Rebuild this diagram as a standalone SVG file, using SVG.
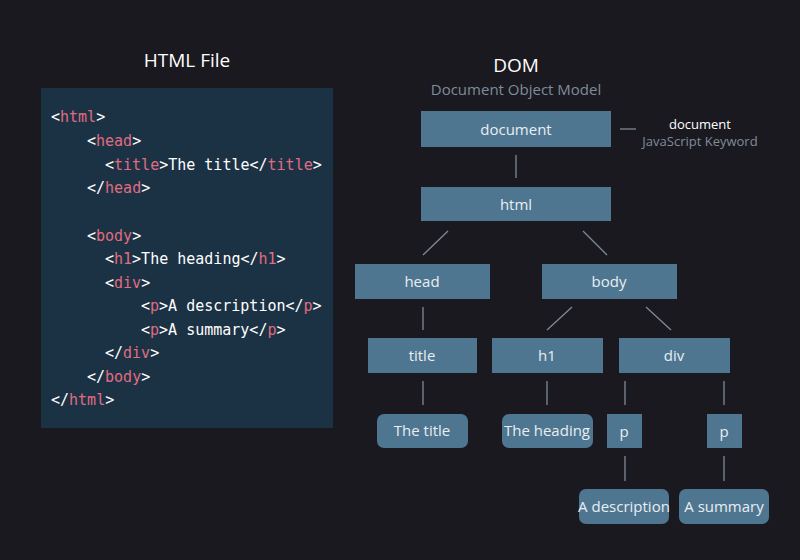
<svg xmlns="http://www.w3.org/2000/svg" width="800" height="560" viewBox="0 0 800 560">
<style>
.code{font-family:"DejaVu Sans Mono",monospace;font-size:15px;fill:#ffffff}
.t{fill:#e06c80}
.n{fill:#4f7690}
.nl{font-family:"Open Sans","Noto Sans",sans-serif;font-size:15px;fill:#e8eef2;text-anchor:middle}
.c line{stroke:#7f8a94;stroke-width:1.3}
</style>
<rect width="800" height="560" fill="#1a1920"/>
<text x="187" y="67" font-family="Open Sans,sans-serif" font-size="19" fill="#fff" text-anchor="middle">HTML File</text>
<text x="516" y="72" font-family="Open Sans,sans-serif" font-size="19" fill="#fff" text-anchor="middle">DOM</text>
<text x="516" y="95" font-family="Open Sans,sans-serif" font-size="15" fill="#7f8c99" text-anchor="middle">Document Object Model</text>
<g id="code">
<rect x="41" y="88" width="292" height="340" fill="#1b3245"/>
<text class="code" x="51" y="122">&lt;<tspan class="t">html</tspan>&gt;</text>
<text class="code" x="87" y="146">&lt;<tspan class="t">head</tspan>&gt;</text>
<text class="code" x="105" y="170">&lt;<tspan class="t">title</tspan>&gt;The title&lt;/<tspan class="t">title</tspan>&gt;</text>
<text class="code" x="87" y="193">&lt;/<tspan class="t">head</tspan>&gt;</text>
<text class="code" x="87" y="241">&lt;<tspan class="t">body</tspan>&gt;</text>
<text class="code" x="105" y="264">&lt;<tspan class="t">h1</tspan>&gt;The heading&lt;/<tspan class="t">h1</tspan>&gt;</text>
<text class="code" x="105" y="288">&lt;<tspan class="t">div</tspan>&gt;</text>
<text class="code" x="141" y="311">&lt;<tspan class="t">p</tspan>&gt;A description&lt;/<tspan class="t">p</tspan>&gt;</text>
<text class="code" x="141" y="335">&lt;<tspan class="t">p</tspan>&gt;A summary&lt;/<tspan class="t">p</tspan>&gt;</text>
<text class="code" x="105" y="358">&lt;/<tspan class="t">div</tspan>&gt;</text>
<text class="code" x="87" y="382">&lt;/<tspan class="t">body</tspan>&gt;</text>
<text class="code" x="51" y="405">&lt;/<tspan class="t">html</tspan>&gt;</text>
</g>
<g class="c" id="connectors">
<line x1="516" y1="155" x2="516" y2="178"/>
<line x1="620" y1="129" x2="636" y2="129"/>
<line x1="448" y1="231" x2="423" y2="255"/>
<line x1="583" y1="231" x2="607" y2="255"/>
<line x1="423" y1="307" x2="423" y2="330"/>
<line x1="572" y1="307" x2="547" y2="330"/>
<line x1="646" y1="307" x2="671" y2="330"/>
<line x1="423" y1="381" x2="423" y2="405"/>
<line x1="547" y1="381" x2="547" y2="405"/>
<line x1="625" y1="381" x2="625" y2="405"/>
<line x1="724" y1="381" x2="724" y2="405"/>
<line x1="625" y1="456" x2="625" y2="481"/>
<line x1="724" y1="456" x2="724" y2="481"/>
</g>
<g id="document"><rect class="n" x="421" y="111" width="190" height="36"/><text class="nl" x="516" y="135">document</text></g>
<g id="doc-note"><text x="700" y="129" font-family="Open Sans,sans-serif" font-size="13" fill="#fff" text-anchor="middle">document</text><text x="700" y="146" font-family="Open Sans,sans-serif" font-size="13" fill="#7f8c99" text-anchor="middle">JavaScript Keyword</text></g>
<g id="html"><rect class="n" x="421" y="187" width="190" height="34"/><text class="nl" x="516" y="210">html</text></g>
<g id="head"><rect class="n" x="355" y="264" width="135" height="35"/><text class="nl" x="422" y="287">head</text></g>
<g id="body"><rect class="n" x="542" y="264" width="135" height="35"/><text class="nl" x="609" y="287">body</text></g>
<g id="title"><rect class="n" x="368" y="338" width="109" height="35"/><text class="nl" x="422" y="361">title</text></g>
<g id="h1"><rect class="n" x="492" y="338" width="111" height="35"/><text class="nl" x="547" y="361">h1</text></g>
<g id="div"><rect class="n" x="619" y="338" width="111" height="35"/><text class="nl" x="674" y="361">div</text></g>
<g id="t-title"><rect class="n" x="377" y="414" width="91" height="34" rx="7"/><text class="nl" x="422" y="436" font-size="13">The title</text></g>
<g id="t-heading"><rect class="n" x="502" y="414" width="91" height="34" rx="7"/><text class="nl" x="547" y="436" font-size="13">The heading</text></g>
<g id="p1"><rect class="n" x="607" y="414" width="35" height="34"/><text class="nl" x="624" y="437">p</text></g>
<g id="p2"><rect class="n" x="707" y="414" width="35" height="34"/><text class="nl" x="724" y="437">p</text></g>
<g id="t-desc"><rect class="n" x="579" y="489" width="90" height="35" rx="7"/><text class="nl" x="624" y="512" font-size="13">A description</text></g>
<g id="t-sum"><rect class="n" x="679" y="489" width="90" height="35" rx="7"/><text class="nl" x="724" y="512" font-size="13">A summary</text></g>
</svg>
